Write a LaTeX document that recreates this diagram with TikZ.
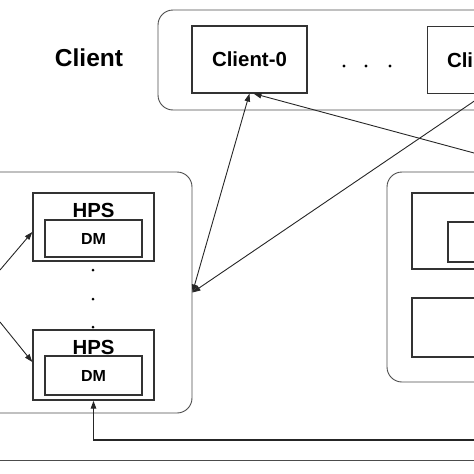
\documentclass[tikz,border=0pt]{standalone}
\usepackage{fontspec}
\setmainfont{Liberation Sans}
\usetikzlibrary{arrows.meta}

\tikzset{
  group/.style={draw=black!70, line width=0.9pt, rounded corners=15pt, inner sep=0pt},
  plainbox/.style={draw=black!80, line width=1.1pt, inner sep=0pt},
  hpsbox/.style={draw=black!80, line width=1.4pt, inner sep=0pt},
  wire/.style={line width=0.9pt, black!85},
  tip/.style={-{Triangle[length=8pt,width=5.5pt]}},
  bothtip/.style={{Triangle[length=8pt,width=5.5pt]}-{Triangle[length=8pt,width=5.5pt]}},
  bigfont/.style={font=\fontsize{24.5}{28}\selectfont\bfseries},
  midfont/.style={font=\fontsize{20.4}{24}\selectfont\bfseries},
  smallfont/.style={font=\fontsize{16}{19}\selectfont\bfseries},
  dot/.style={fill=black, circle, inner sep=0pt, minimum size=3.4pt}
}

\begin{document}
\begin{tikzpicture}[x=1pt,y=-1pt]
  \useasboundingbox (0,0) rectangle (474,474);
  \clip (0,0) rectangle (474,474);

  % client side
  \node[bigfont] (clientlbl) at (89,57.5) {Client};
  \node[group, minimum width=362pt, minimum height=100pt] (clientgrp) at (339,60) {};
  \node[plainbox, midfont, minimum width=115pt, minimum height=67pt] (c0) at (249.5,59.5) {Client-0};
  \node[plainbox, midfont, anchor=north west, text width=75pt, align=left,
        inner xsep=20pt, minimum height=67pt] (cn) at (426.5,26) {Cli};
  \foreach \x in {344,366,390} \node[dot] at (\x,66) {};

  % HPS side
  \node[group, minimum width=232pt, minimum height=241pt] (hpsgrp) at (76,292.5) {};
  \node[hpsbox, minimum width=121pt, minimum height=68pt] (hps1) at (93.5,227) {};
  \node[midfont] (hpslbl1) at (93.5,210.5) {HPS};
  \node[plainbox, smallfont, minimum width=97pt, minimum height=37pt] (dm1) at (93.5,238.5) {DM};
  \foreach \y in {270,299,327} \node[dot, minimum size=3pt] at (93,\y) {};
  \node[hpsbox, minimum width=121pt, minimum height=70pt] (hps2) at (93.5,365) {};
  \node[midfont] (hpslbl2) at (93.5,347) {HPS};
  \node[plainbox, smallfont, minimum width=97pt, minimum height=39pt] (dm2) at (93.5,375.5) {DM};

  % right side
  \node[group, minimum width=140pt, minimum height=210pt] (rgrp) at (457,277) {};
  \node[plainbox, minimum width=100pt, minimum height=76pt] (rbox1) at (462,231) {};
  \node[plainbox, minimum width=60pt, minimum height=40pt] (rinner) at (478,242) {};
  \node[plainbox, minimum width=100pt, minimum height=59pt] (rbox2) at (462,327.5) {};

  % free ends
  \coordinate (lin1) at (0,270);
  \coordinate (lin2) at (0,322);
  \coordinate (rin1) at (500,160);
  \coordinate (rin2) at (500,440);

  % connectors
  \draw[wire, tip] (lin1) -- ([yshift=-5pt]hps1.west);
  \draw[wire, tip] (lin2) -- ([yshift=3pt]hps2.west);
  \draw[wire, bothtip] (c0.south) -- (hpsgrp.east);
  \draw[wire, tip] (rin1) -- ([xshift=4pt]c0.south);
  \draw[wire, tip] (cn.south) -- (hpsgrp.east);
  \draw[wire, line width=1.3pt, tip] (rin2) -| (hps2.south);

  % frame
  \draw[black!70, line width=1pt] (-10,460) -- (500,460);
\end{tikzpicture}
\end{document}
